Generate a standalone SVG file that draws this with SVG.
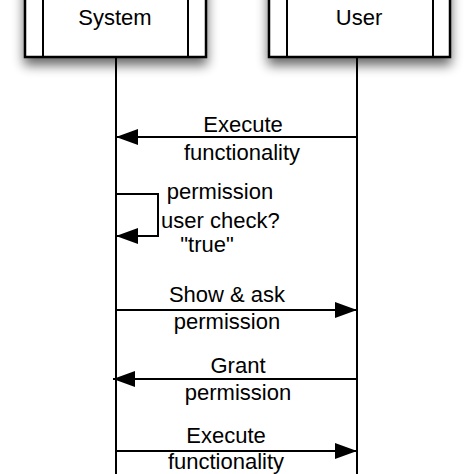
<svg xmlns="http://www.w3.org/2000/svg" width="474" height="474" viewBox="0 0 474 474">
<style>
text{font-family:"Liberation Sans",Arial,sans-serif;font-size:22px;fill:#000;text-anchor:middle}
.box{fill:#fff;stroke:#000;stroke-width:2.5}
.in{stroke:#000;stroke-width:2}
.life{stroke:#000;stroke-width:2;fill:none}
.msg{stroke:#000;stroke-width:2;fill:none;marker-end:url(#ah)}
</style>
<defs>
<marker id="ah" viewBox="0 0 22 16" refX="22" refY="8" markerWidth="22" markerHeight="16" markerUnits="userSpaceOnUse" orient="auto">
<path d="M0,0 L22,8 L0,16 Z" fill="#000"/>
</marker>
<filter id="sh" x="-20%" y="-20%" width="140%" height="170%">
<feGaussianBlur in="SourceAlpha" stdDeviation="6"/>
<feOffset dx="0" dy="7" result="b"/>
<feComponentTransfer><feFuncA type="linear" slope="0.6"/></feComponentTransfer>
<feMerge><feMergeNode/><feMergeNode in="SourceGraphic"/></feMerge>
</filter>
</defs>
<rect width="474" height="474" fill="#fff"/>
<g id="connectors">
<line class="life" x1="116" y1="57" x2="116" y2="474"/>
<line class="life" x1="357" y1="57" x2="357" y2="474"/>
<line class="msg" x1="357" y1="137" x2="116" y2="137"/>
<polyline class="msg" points="116,194 158,194 158,236 116,236"/>
<line class="msg" x1="116" y1="310" x2="357" y2="310"/>
<line class="msg" x1="357" y1="379" x2="113" y2="379"/>
<line class="msg" x1="116" y1="451" x2="357" y2="451"/>
<text x="243" y="132">Execute</text>
<text x="242" y="160">functionality</text>
<text x="220" y="199">permission</text>
<text x="161" y="228" style="text-anchor:start">user check?</text>
<text x="207" y="252">"true"</text>
<text x="227" y="302">Show &amp; ask</text>
<text x="227" y="329">permission</text>
<text x="238" y="373">Grant</text>
<text x="238" y="400">permission</text>
<text x="226" y="443">Execute</text>
<text x="226" y="469">functionality</text>
</g>
<g id="system">
<rect class="box" x="25" y="-20" width="181" height="77" filter="url(#sh)"/>
<line class="in" x1="43" y1="-20" x2="43" y2="57"/>
<line class="in" x1="188" y1="-20" x2="188" y2="57"/>
<text x="115" y="25">System</text>
</g>
<g id="user">
<rect class="box" x="269" y="-20" width="181" height="77" filter="url(#sh)"/>
<line class="in" x1="287" y1="-20" x2="287" y2="57"/>
<line class="in" x1="433" y1="-20" x2="433" y2="57"/>
<text x="359" y="25">User</text>
</g>
</svg>
